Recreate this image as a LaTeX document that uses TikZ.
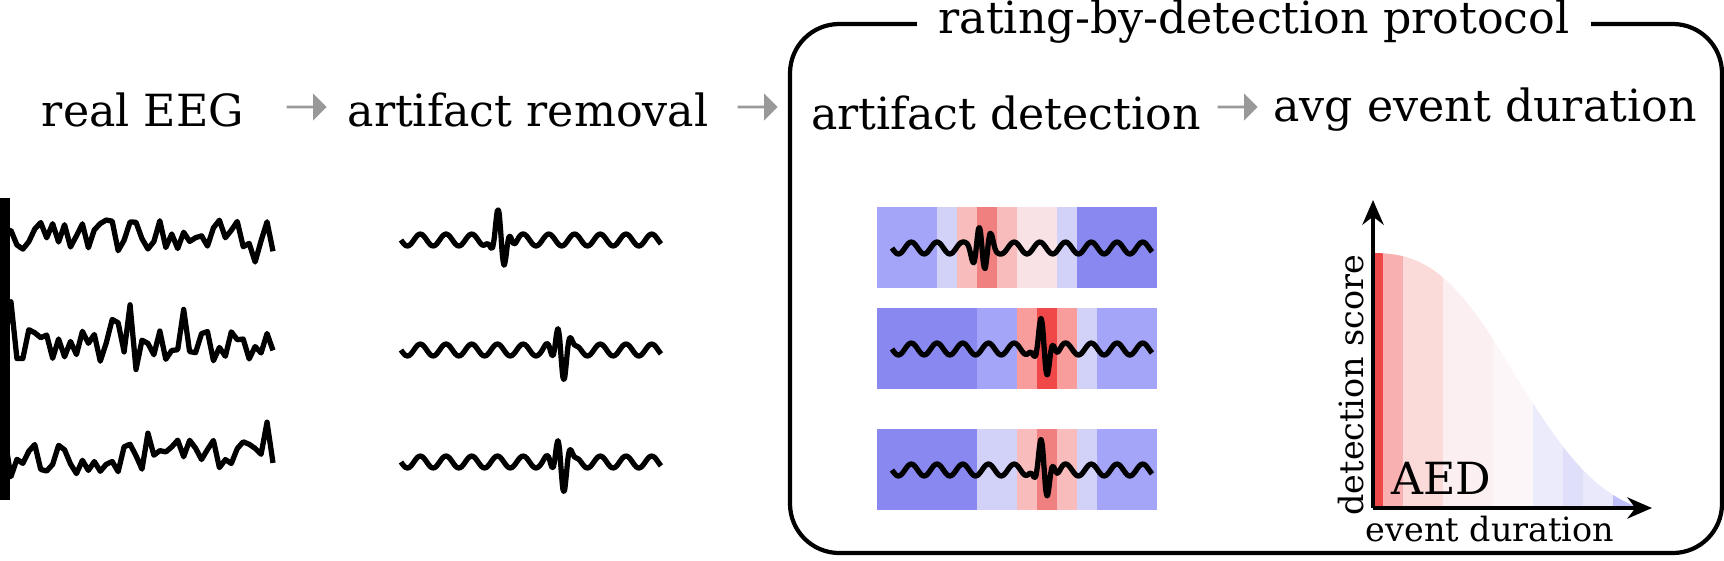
\documentclass[tikz,border=0pt]{standalone}
\usepackage{fontspec}
\setmainfont{DejaVu Serif}
\usetikzlibrary{positioning,arrows.meta,shapes.arrows}
\definecolor{hmBlueDk}{HTML}{8888F0}
\definecolor{hmBlue}{HTML}{A4A4F8}
\definecolor{hmBlueLt}{HTML}{D2D2F8}
\definecolor{hmRedLt}{HTML}{F8BCBC}
\definecolor{hmSalmon}{HTML}{F89C9C}
\definecolor{hmRed}{HTML}{F04848}
\definecolor{hmRedMd}{HTML}{F08080}
\definecolor{hmPink}{HTML}{F8E2E6}
\definecolor{arrGray}{HTML}{999999}
\tikzset{
  steptext/.style={font=\fontsize{12.6}{14}\selectfont, inner sep=1pt},
  axtext/.style={font=\fontsize{9.5}{11}\selectfont, inner sep=1pt},
  flowarrow/.style={single arrow, fill=arrGray, draw=none, minimum width=0.27cm,
                    single arrow head extend=0.06cm, minimum height=0.4cm, inner sep=0pt},
  pen/.style={line width=1.5pt, line join=round},
  thinpen/.style={line width=1.5pt, line join=round},
  axisarrow/.style={line width=1.2pt, -{Stealth[length=7pt,width=6pt]}},
}
% wavelet with spike at centre c
\newcommand{\wavy}[3]{% x0, y0, spike offset
  \draw[thinpen] plot[domain=0:260, samples=160, smooth]
    ({#1+\x},{#2+6*sin(\x*14)+28*exp(-((\x-#3)/9)^2)*sin((\x-#3)*28)});}
\begin{document}
\begin{tikzpicture}[x=0.01cm, y=-0.01cm]
\useasboundingbox (0,0) rectangle (1724,560);
%% Steps
\node[steptext] (eeg) at (143,110) {real EEG};
\node[steptext] (rem) at (528,110) {artifact removal};
\node[steptext] (det) at (1006,113) {artifact detection};
\node[steptext] (aed) at (1485,110) {avg event duration};
\node[flowarrow] (a1) at (306,107) {};
\node[flowarrow] (a2) at (757,107) {};
\node[flowarrow] (a3) at (1237,107) {};
%% Protocol frame
\draw[line width=1.2pt, rounded corners=14pt] (790,24) rectangle (1722,553);
\node[steptext, fill=white, inner sep=6pt] (proto) at (1254,22) {rating-by-detection protocol};
%% Raw EEG
\draw[line width=3pt] (5,198) -- (5,500);
\pgfmathsetseed{11}
\foreach \row in {236,346,456}{
  \draw[pen] plot[domain=0:268, samples=46] ({5+\x},{\row+rand*16+(abs(rand)>0.8?rand*34:0)});
}
%% Cleaned EEG
\wavy{401}{240}{100}
\wavy{401}{350}{160}
\wavy{401}{462}{160}
%% Heatmaps
\foreach \y/\spec in {207/{877/937/hmBlue,937/957/hmBlueLt,957/977/hmRedLt,977/997/hmRedMd,997/1017/hmRedLt,1017/1057/hmPink,1057/1077/hmBlueLt,1077/1157/hmBlueDk},
                      308/{877/977/hmBlueDk,977/1017/hmBlue,1017/1037/hmSalmon,1037/1057/hmRed,1057/1077/hmSalmon,1077/1097/hmBlueLt,1097/1157/hmBlue},
                      429/{877/977/hmBlueDk,977/1017/hmBlueLt,1017/1037/hmRedLt,1037/1057/hmRedMd,1057/1077/hmRedLt,1077/1097/hmBlueLt,1097/1157/hmBlue}}{
  \foreach \xa/\xb/\col in \spec{\fill[\col] (\xa,\y) rectangle (\xb,\y+81);}
}
\wavy{892}{248}{90}
\wavy{892}{349}{152}
\wavy{892}{470}{152}
%% Chart
\coordinate (org) at (1373,508);
\begin{scope}
  \clip (1373,508) -- (1373,253) .. controls (1420,253) and (1450,270) .. (1500,350)
        .. controls (1560,450) and (1590,490) .. (1640,508) -- cycle;
  \foreach \xa/\xb/\col in {1373/1383/hmRed,1383/1403/hmSalmon!80,1403/1443/hmRedLt!55,
                            1443/1493/hmPink!55,1493/1533/hmPink!30,1533/1563/hmBlueLt!45,
                            1563/1583/hmBlueLt!70,1583/1613/hmBlueLt!50,1613/1640/hmBlue!70}
    {\fill[\col] (\xa,253) rectangle (\xb,508);}
\end{scope}
\coordinate (ytop) at (1373,200);
\coordinate (xend) at (1652,508);
\draw[axisarrow] (org) -- (ytop);
\draw[axisarrow] (org) -- (xend);
\node[axtext, rotate=90] (ylab) at (1351,385) {detection score};
\node[axtext] (xlab) at (1490,529) {event duration};
\node[steptext] (aedlab) at (1441,478) {AED};
\end{tikzpicture}
\end{document}
